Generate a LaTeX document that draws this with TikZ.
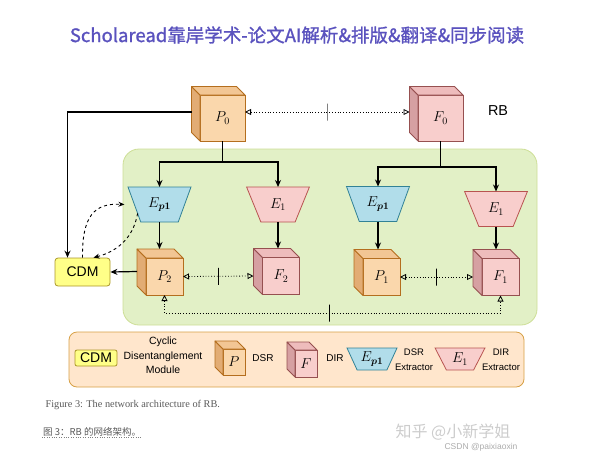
\documentclass[tikz,border=0pt]{standalone}
\usepackage{amsmath}
\usepackage{fontspec}
\setsansfont{Liberation Sans}
\newfontfamily\cjkfont{Noto Sans CJK SC}
\newfontfamily\titlefont[FakeBold=1.2]{Noto Sans CJK SC}
\newfontfamily\capfont{Liberation Serif}
\usetikzlibrary{arrows.meta,shapes.geometric}

\definecolor{titleblue}{RGB}{90,82,190}
\definecolor{pfront}{RGB}{250,215,172}
\definecolor{ptop}{RGB}{242,198,148}
\definecolor{pside}{RGB}{226,172,116}
\definecolor{pline}{RGB}{180,110,30}
\definecolor{ffront}{RGB}{248,206,204}
\definecolor{ftop}{RGB}{238,188,188}
\definecolor{fside}{RGB}{214,160,162}
\definecolor{fline}{RGB}{150,80,80}
\definecolor{epfill}{RGB}{177,221,234}
\definecolor{epline}{RGB}{50,130,150}
\definecolor{efill}{RGB}{248,206,204}
\definecolor{eline}{RGB}{184,84,80}
\definecolor{cdmfill}{RGB}{255,255,136}
\definecolor{cdmline}{RGB}{170,150,40}
\definecolor{rbfill}{RGB}{226,240,198}
\definecolor{rbline}{RGB}{205,222,150}
\definecolor{legfill}{RGB}{255,230,204}
\definecolor{legline}{RGB}{215,160,70}

% left and top faces of a cube node
\newcommand{\cubesides}[5]{%
  \filldraw[draw=#5,fill=#4,line width=0.8pt,line join=round] (#1.north west) -- ++(-#2,-#2) -- ([shift={(-#2,-#2)}]#1.south west) -- (#1.south west) -- cycle;
  \filldraw[draw=#5,fill=#3,line width=0.8pt,line join=round] (#1.north west) -- ++(-#2,-#2) -- ([shift={(-#2,-#2)}]#1.north east) -- (#1.north east) -- cycle;
}

\begin{document}
\begin{tikzpicture}
[x=1pt,y=-1pt,
font=\sffamily,
mathlabel/.style={font=\fontsize{14.4}{17}\selectfont},
pcube/.style={draw=pline,fill=pfront,line width=0.8pt,inner sep=0pt,outer sep=0pt,mathlabel},
fcube/.style={draw=fline,fill=ffront,line width=0.8pt,inner sep=0pt,outer sep=0pt,mathlabel},
bigcube/.style={minimum width=45pt,minimum height=46pt},
smallcube/.style={minimum width=37pt,minimum height=37pt},
extractor/.style={trapezium,trapezium left angle=119,trapezium right angle=119,trapezium stretches=true,
  inner sep=0pt,outer sep=0pt,line width=0.8pt,minimum width=63pt,minimum height=35pt,mathlabel},
epx/.style={extractor,draw=epline,fill=epfill},
ex/.style={extractor,draw=eline,fill=efill},
cdmbox/.style={draw=cdmline,fill=cdmfill,rounded corners=3pt,line width=0.8pt,inner sep=0pt,
  font=\sffamily\fontsize{14}{16}\selectfont},
flow/.style={line width=1.2pt,-{Stealth[length=7pt,width=6pt]}},
link/.style={dotted,line width=0.8pt,{Triangle[open,length=6pt,width=6pt]}-{Triangle[open,length=6pt,width=6pt]}},
tickmark/.style={draw,solid,line width=0.8pt,inner sep=0pt,outer sep=0pt,minimum width=0pt,minimum height=17pt},
loopback/.style={dashed,line width=0.9pt,-{Stealth[length=6pt,width=5pt]}},
legtext/.style={align=center,font=\sffamily\fontsize{10}{14.5}\selectfont}]
\useasboundingbox (0,0) rectangle (594,453);

\node[font=\titlefont\fontsize{18.5}{22}\selectfont,text=titleblue] (title) at (297,35)
  {Scholaread靠岸学术-论文AI解析\&排版\&翻译\&同步阅读};

% RB block
\draw[fill=rbfill,draw=rbline,line width=0.8pt,rounded corners=16pt] (123,149) rectangle (537,325);

\node[pcube,bigcube] (p0) at (222.5,118) {$P_0$};
\cubesides{p0}{8.5}{ptop}{pside}{pline}
\node[fcube,bigcube] (f0) at (440.5,118) {$F_0$};
\cubesides{f0}{8.5}{ftop}{fside}{fline}
\node[font=\sffamily\fontsize{14.4}{17}\selectfont] (rb) at (498,111) {RB};

\node[epx] (ep1a) at (159.5,204.5) {$E_{\boldsymbol{p1}}$};
\node[ex] (e1a) at (278,204.5) {$E_1$};
\node[epx] (ep1b) at (378,204) {$E_{\boldsymbol{p1}}$};
\node[ex] (e1b) at (496,209) {$E_1$};

\node[pcube,smallcube] (p2) at (164.5,276.5) {$P_2$};
\cubesides{p2}{9}{ptop}{pside}{pline}
\node[fcube,smallcube] (f2) at (281,276) {$F_2$};
\cubesides{f2}{9}{ftop}{fside}{fline}
\node[pcube,smallcube] (p1) at (381.5,277) {$P_1$};
\cubesides{p1}{9}{ptop}{pside}{pline}
\node[fcube,smallcube] (f1) at (500.5,277) {$F_1$};
\cubesides{f1}{9}{ftop}{fside}{fline}
\coordinate (p2top) at ([yshift=9pt]p2.north);
\coordinate (f2top) at ([yshift=9pt]f2.north);
\coordinate (p1top) at ([yshift=9pt]p1.north);
\coordinate (f1top) at ([yshift=9pt]f1.north);

\node[cdmbox,minimum width=55pt,minimum height=28pt] (cdm) at (82.5,272) {CDM};

% extractors
\draw[flow] (p0.south) -- ++(0,21) -| (ep1a.north);
\draw[flow] (p0.south) -- ++(0,21) -| (e1a.north);
\draw[flow] (f0.south) -- ++(0,26) -| (ep1b.north);
\draw[flow] (f0.south) -- ++(0,26) -| (e1b.north);
\draw[flow] (ep1a.south) -- (ep1a.south |- p2top);
\draw[flow] (e1a.south) -- (e1a.south |- f2top);
\draw[flow] (ep1b.south) -- (ep1b.south |- p1top);
\draw[flow] (e1b.south) -- (e1b.south |- f1top);

% pairs
\draw[link] ([yshift=6pt]p0.east) -- ([xshift=-8.5pt,yshift=6pt]f0.west) node[midway,tickmark,draw=gray]{};
\draw[link] (p2.east) -- ([xshift=-9pt]f2.west) node[midway,tickmark]{};
\draw[link] (p1.east) -- ([xshift=-9pt]f1.west) node[midway,tickmark]{};
\draw[link] (p2.south) -- ++(0,18) coordinate (lowleft) -| (f1.south);
\path (lowleft) -- (lowleft -| f1.south) node[pos=0.49,tickmark]{};

% CDM
\draw[flow] ([xshift=-8.5pt,yshift=6pt]p0.west) -| ([xshift=-15pt]cdm.north);
\draw[flow] ([xshift=-9pt,yshift=5pt]p2.west) -- (cdm.east);
\draw[loopback] (cdm.north) .. controls (82,215) and (95,203) .. ([xshift=-10pt]ep1a.west);
\draw[loopback] (ep1a.202) .. controls (133,240) and (115,252) .. ([xshift=11pt]cdm.north);

% legend
\draw[fill=legfill,draw=legline,line width=0.8pt,rounded corners=8pt] (69,332) rectangle (524,387);
\node[cdmbox,minimum width=42pt,minimum height=16pt,rounded corners=2pt] (lcdm) at (96,358) {CDM};
\node[legtext,font=\sffamily\fontsize{10.5}{14.5}\selectfont] (lcdmtext) at (163,355.5) {Cyclic\\Disentanglement\\Module};
\node[pcube,minimum width=22pt,minimum height=26pt] (lp) at (234,362) {$P$};
\cubesides{lp}{8}{ptop}{pside}{pline}
\node[legtext] (ldsr) at (263,358) {DSR};
\node[fcube,minimum width=22pt,minimum height=27pt] (lf) at (306,363.5) {$F$};
\cubesides{lf}{8}{ftop}{fside}{fline}
\node[legtext] (ldir) at (335,358) {DIR};
\node[epx,minimum width=50pt,minimum height=22pt] (lep) at (372,359) {$E_{\boldsymbol{p1}}$};
\node[legtext,font=\sffamily\fontsize{9.5}{15}\selectfont] (lept) at (414,359.5) {DSR\\Extractor};
\node[ex,minimum width=50pt,minimum height=22pt] (le) at (460,359) {$E_1$};
\node[legtext,font=\sffamily\fontsize{9.5}{15}\selectfont] (let) at (501,359.5) {DIR\\Extractor};

% page text
\node[anchor=west,font=\capfont\fontsize{10.3}{12}\selectfont,text=black!65] (capen) at (42,405) {Figure 3: The network architecture of RB.};
\node[anchor=west,font=\cjkfont\fontsize{9.5}{11}\selectfont,text=black!65,inner sep=1pt] (capzh) at (42,432) {图 3：RB 的网络架构。};
\draw[dotted,black!50] (capzh.south west) -- (capzh.south east);
\node[font=\cjkfont\fontsize{16}{18}\selectfont,text=black!20] (mark) at (453,432) {知乎 @小新学姐};
\node[anchor=east,font=\sffamily\fontsize{8.5}{10}\selectfont,text=black!33] (csdn) at (521,447) {CSDN @paixiaoxin};
\end{tikzpicture}
\end{document}
